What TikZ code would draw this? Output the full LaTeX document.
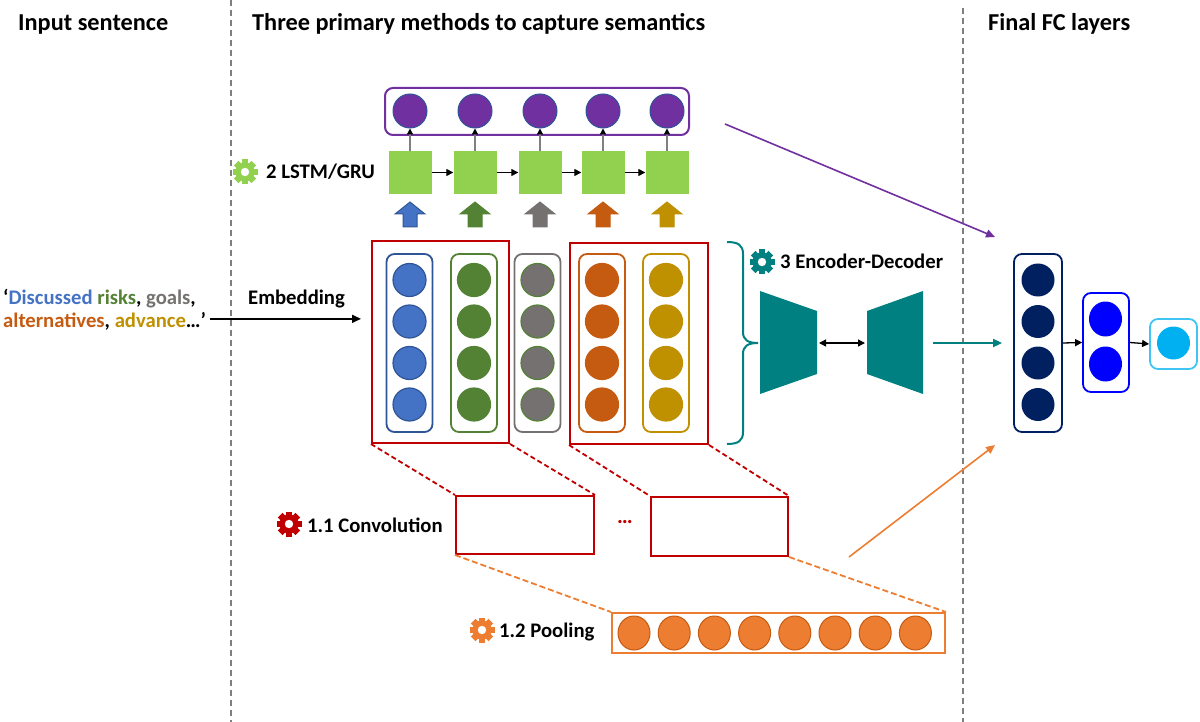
\documentclass[tikz,border=0pt]{standalone}
\usepackage{fontspec}
\setmainfont{Carlito}
\usetikzlibrary{arrows.meta,shapes.geometric}
\definecolor{cblue}{HTML}{4472C4}
\definecolor{cbluedk}{HTML}{2F5597}
\definecolor{cgreen}{HTML}{548235}
\definecolor{cgray}{HTML}{767171}
\definecolor{corange}{HTML}{C55A11}
\definecolor{cgold}{HTML}{BF9000}
\definecolor{lgreen}{HTML}{92D050}
\definecolor{cpurple}{HTML}{7030A0}
\definecolor{cred}{HTML}{C00000}
\definecolor{pool}{HTML}{ED7D31}
\definecolor{cteal}{HTML}{008080}
\definecolor{cnavy}{HTML}{002060}
\definecolor{cbright}{HTML}{0000FF}
\definecolor{ccyan}{HTML}{00B0F0}
\definecolor{ccyanl}{HTML}{40C4F4}
\definecolor{sep}{HTML}{7F7F7F}
\tikzset{
  pics/gearpic/.style={code={
    \fill[#1] (0,0) circle (9.5);
    \foreach \a in {0,45,...,315}{\fill[#1,rotate=\a] (-3.2,0) rectangle (3.2,12.5);}
    \fill[white] (0,0) circle (4.2);
  }},
  lbl/.style={anchor=base west, inner sep=0pt, font=\bfseries\fontsize{20.7}{24}\selectfont},
  hdr/.style={anchor=base west, inner sep=0pt, font=\bfseries\fontsize{24.3}{27}\selectfont},
  colbox/.style={draw, rounded corners=8pt, line width=1.8pt, minimum width=46pt, minimum height=178pt, inner sep=0pt},
  circ/.style={circle, minimum size=33pt, inner sep=0pt, line width=1.2pt},
  sqbox/.style={fill=lgreen, minimum width=43pt, minimum height=43pt, inner sep=0pt},
  redbox/.style={draw=cred, line width=2pt, inner sep=0pt},
  arr/.style={line width=1.6pt, -{Triangle[length=9pt,width=8pt]}},
  sarr/.style={line width=1.3pt, -{Triangle[length=7pt,width=7pt]}},
  reddash/.style={draw=cred, line width=1.8pt, dash pattern=on 5pt off 3pt},
  orgdash/.style={draw=pool, line width=1.8pt, dash pattern=on 6pt off 3pt},
}
\begin{document}
\begin{tikzpicture}[x=1pt,y=-1pt]
\useasboundingbox (0,0) rectangle (1200,722);
% separators
\draw[sep, line width=1.5pt, dash pattern=on 6pt off 4pt] (231,0) -- (231,722);
\draw[sep, line width=1.5pt, dash pattern=on 6pt off 4pt] (963,8) -- (963,722);
% headers
\node[hdr] (h1) at (18,31) {Input sentence};
\node[hdr] (h2) at (252,31) {Three primary methods to capture semantics};
\node[hdr] (h3) at (988,31) {Final FC layers};
% input sentence
\node[lbl] (s1) at (3,305) {‘\textcolor{cblue}{Discussed} \textcolor{cgreen}{risks}, \textcolor{cgray}{goals},};
\node[lbl] (s2) at (3,327) {\textcolor{corange}{alternatives}, \textcolor{cgold}{advance}…’};
\node[lbl] (emb) at (248,305) {Embedding};
% red windows
\node[redbox, minimum width=137pt, minimum height=202pt] (w1) at (440.5,342) {};
\node[redbox, minimum width=138pt, minimum height=201pt] (w2) at (639,343.5) {};
\draw[arr] ([xshift=4pt,yshift=2pt]s2.east) -- ([yshift=2pt]s2.east -| w1.west) [shorten >=10pt];
% embedding columns
\foreach \x/\f/\o/\co [count=\i] in {409.5/cblue/cbluedk/cbluedk, 474/cgreen/cgreen/cgreen, 537.5/cgray/cgray/cgreen, 602/corange/corange/corange, 666/cgold/cgold/cgold}{
  \node[colbox, draw=\o] (col\i) at (\x,343) {};
  \foreach \y [count=\j] in {280,321.5,363,404.5}
    \node[circ, fill=\f, draw=\co] (e\i\j) at (\x,\y) {};
}
% LSTM
\node[draw=cpurple, line width=2pt, rounded corners=8pt, minimum width=304pt, minimum height=47pt, inner sep=0pt] (lstmbox) at (537,111.5) {};
\foreach \x/\f/\o [count=\i] in {410/cblue/cbluedk, 475/cgreen/cgreen, 540/cgray/cgray, 603/corange/corange, 667/cgold/cgold}{
  \node[circ, fill=cpurple, draw=cbluedk, line width=1pt, minimum size=34pt] (p\i) at (\x,111) {};
  \node[sqbox] (q\i) at (\x,172.5) {};
  \draw[gray, line width=1.2pt, -{Triangle[length=6pt,width=6pt,color=black]}] (q\i.north) -- (p\i.south);
  \filldraw[fill=\f, draw=\o, line width=1pt] (\x-7,227) -- (\x-7,214) -- (\x-15,214) -- (\x,202) -- (\x+15,214) -- (\x+7,214) -- (\x+7,227) -- cycle;
}
\foreach \i/\j in {1/2,2/3,3/4,4/5}{\draw[sarr] (q\i.east) -- (q\j.west);}
\pic at (245,172) {gearpic=lgreen};
\node[lbl] (lstmlbl) at (266,179) {2 LSTM/GRU};
% encoder-decoder
\draw[cteal, line width=2pt] (727,242) .. controls (738,242) and (743,245) .. (743,254) -- (743,332) .. controls (743,340) and (748,343) .. (758,343) .. controls (748,343) and (743,346) .. (743,354) -- (743,432) .. controls (743,441) and (738,444) .. (727,444);
\pic at (762,262) {gearpic=cteal};
\node[lbl] (edlbl) at (780,269) {3 Encoder-Decoder};
\fill[cteal] (760,291) -- (817,311) -- (817,374) -- (760,394) -- cycle;
\fill[cteal] (867,311) -- (923,291) -- (923,394) -- (867,374) -- cycle;
\coordinate (encR) at (817,343);
\coordinate (decL) at (867,343);
\coordinate (decR) at (933,343);
\draw[line width=1.3pt, {Triangle[length=7pt,width=7pt]}-{Triangle[length=7pt,width=7pt]}] (encR) -- (decL) [shorten <=2pt, shorten >=2pt];
% FC layers
\node[colbox, draw=cnavy, minimum width=48pt] (fc1) at (1038,343) {};
\foreach \y [count=\j] in {280,321.5,363,404.5}
  \node[circ, fill=cnavy] (f1\j) at (1038,\y) {};
\node[colbox, draw=cbright, minimum width=46pt, minimum height=99pt] (fc2) at (1106,342.5) {};
\node[ellipse, fill=cbright, minimum width=33pt, minimum height=35pt, inner sep=0pt] (f21) at (1105.5,319) {};
\node[ellipse, fill=cbright, minimum width=33pt, minimum height=35pt, inner sep=0pt] (f22) at (1105.5,364) {};
\node[colbox, draw=ccyanl, minimum width=47pt, minimum height=50pt] (fc3) at (1173.5,344) {};
\node[circ, fill=ccyan] (f31) at (1173.5,343) {};
\draw[sarr] (fc1.east) -- (fc2.west);
\draw[sarr] (fc2.east) -- (fc3.west);
\draw[cteal, arr] (decR) -- (fc1.west) [shorten >=11pt];
% purple and orange arrows
\coordinate (ps) at (725,124);
\coordinate (pe) at (995,237);
\draw[cpurple, arr] (ps) -- (pe);
\coordinate (os) at (849,557);
\coordinate (oe) at (995,445);
\draw[pool, arr] (os) -- (oe);
% convolution
\node[redbox, minimum width=138pt, minimum height=58pt] (c1) at (525,525) {};
\node[redbox, minimum width=137pt, minimum height=59pt] (c2) at (719.5,526.5) {};
\node[text=cred, font=\bfseries\fontsize{22}{24}\selectfont, inner sep=0pt] (dots) at (625,522) {…};
\draw[reddash] (w1.south west) -- (c1.north west);
\draw[reddash] (w1.south east) -- (c1.north east);
\draw[reddash] (w2.south west) -- (c2.north west);
\draw[reddash] (w2.south east) -- (c2.north east);
\pic at (289,524) {gearpic=cred};
\node[lbl] (convlbl) at (307,532) {1.1 Convolution};
% pooling
\node[draw=pool, line width=2pt, minimum width=333pt, minimum height=40pt, inner sep=0pt] (poolbox) at (778.5,633) {};
\foreach \i in {0,...,7}
  \node[ellipse, fill=pool, draw=corange, line width=1pt, minimum width=32pt, minimum height=34pt, inner sep=0pt] (pl\i) at ({634+40.2*\i},633) {};
\draw[orgdash] (c1.south west) -- (poolbox.north west);
\draw[orgdash] (c2.south east) -- (poolbox.north east);
\pic at (482,630) {gearpic=pool};
\node[lbl] (poollbl) at (499,637) {1.2 Pooling};
\end{tikzpicture}
\end{document}
